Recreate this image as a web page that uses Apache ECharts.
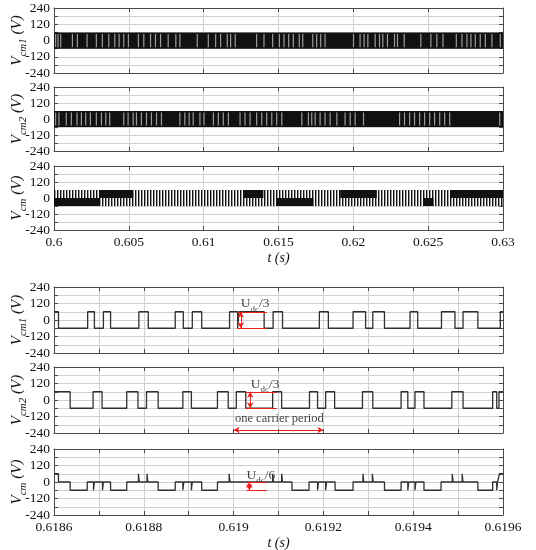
<!DOCTYPE html>
<html><head><meta charset="utf-8">
<script src="https://cdn.jsdelivr.net/npm/echarts@6/dist/echarts.min.js"></script>
<style>html,body{margin:0;padding:0;background:#fff}#c{width:536px;height:550px}</style>
</head><body><div id="c"></div>
<script>
// ---------- data ----------
const topRange = [0.6, 0.63];
const topStep = 0.005;
const botRange = [0.6186, 0.6196];
const botStep = 0.0001;
const yRange = [-240, 240];
const yStep = 60;
const yLabelStep = 120;
const swing = [-60, 60];

// top panels: light stripes (instants without switching) in dense PWM band
const vcm1TopGaps = [0.60011,0.60027,0.60045,0.60123,0.60156,0.60221,0.60283,0.60323,0.60366,0.60406,0.60435,0.60466,0.60497,0.60564,0.606,0.60645,0.60678,0.60712,0.60763,0.60814,0.60841,0.60957,0.61031,0.6108,0.61113,0.61158,0.6118,0.61211,0.61354,0.61403,0.61461,0.61506,0.61537,0.61568,0.61599,0.61639,0.61662,0.61729,0.61755,0.61782,0.61811,0.62001,0.62045,0.62072,0.62097,0.62146,0.62175,0.62197,0.62228,0.62275,0.62295,0.6234,0.62451,0.62518,0.62558,0.62599,0.62688,0.62726,0.62759,0.62786,0.62815,0.62848,0.62882,0.62926,0.62982];
const vcm2TopGaps = [0.60011,0.60033,0.60082,0.60116,0.60154,0.60183,0.60212,0.60243,0.60283,0.60317,0.60346,0.60372,0.60466,0.60495,0.60529,0.60551,0.60584,0.60618,0.60651,0.60685,0.60718,0.60841,0.60874,0.60903,0.6093,0.60975,0.61002,0.61065,0.61098,0.61131,0.61165,0.61243,0.61276,0.6131,0.61354,0.61388,0.61421,0.61455,0.61488,0.61522,0.61656,0.617,0.61722,0.61745,0.61778,0.61811,0.61845,0.6189,0.61945,0.61979,0.62012,0.62068,0.62309,0.62342,0.62376,0.62409,0.62443,0.62476,0.6251,0.62543,0.62577,0.6261,0.62644,0.62978];
// Vcm (top): intervals of dense switching in the upper (0..60) and lower (-60..0) halves
const vcmUpperDense = [[0.60306,0.60529],[0.61265,0.61399],[0.61912,0.62157],[0.62648,0.63]];
const vcmLowerDense = [[0.6,0.60306],[0.61488,0.61733],[0.6247,0.62536]];

// bottom panels: switching instants (s) and levels (V)
const vcm1T = [0.6186,0.61861,0.618675,0.61869,0.61871,0.618726,0.618789,0.61881,0.61887,0.618888,0.618908,0.618929,0.618991,0.619009,0.619012,0.619068,0.619088,0.619109,0.619191,0.619211,0.619266,0.619294,0.61931,0.619336,0.619393,0.61941,0.619463,0.619493,0.619511,0.619544,0.619594,0.6196];
const vcm1V = [60,-60,60,-60,60,-60,60,-60,60,-60,60,-60,60,-60,60,-60,60,-60,60,-60,60,-60,60,-60,60,-60,60,-60,60,-60,60,60];
const vcm2T = [0.6186,0.618636,0.618687,0.618707,0.618762,0.618787,0.618806,0.618832,0.618887,0.618906,0.618964,0.618988,0.619006,0.619027,0.619087,0.619107,0.619169,0.619187,0.619205,0.619225,0.619287,0.61931,0.619373,0.619388,0.619404,0.619424,0.619486,0.619511,0.619577,0.619586,0.619591,0.6196];
const vcm2V = [60,-60,60,-60,60,-60,60,-60,60,-60,60,-60,60,-60,60,-60,60,-60,60,-60,60,-60,60,-60,60,-60,60,-60,60,-60,60,60];
const vcmT = [0.6186,0.61861,0.618636,0.618674,0.618688,0.61869,0.618708,0.61871,0.618726,0.618762,0.618788,0.61879,0.618807,0.618809,0.618832,0.61887,0.618887,0.618889,0.618906,0.618908,0.618929,0.618964,0.61899,0.618992,0.619087,0.619089,0.619107,0.619109,0.61913,0.619168,0.619187,0.619189,0.619205,0.619207,0.619226,0.619266,0.619288,0.61929,0.619309,0.619311,0.619336,0.619373,0.619388,0.61939,0.619404,0.619406,0.619424,0.619462,0.619487,0.619489,0.619509,0.619511,0.619544,0.619577,0.619586,0.619588,0.619592,0.6196];
const vcmV = [60,0,-60,0,-60,0,-60,0,-60,0,60,0,60,0,-60,0,-60,0,-60,0,-60,0,60,0,60,0,60,0,-60,0,-60,0,-60,0,-60,0,60,0,60,0,-60,0,-60,0,-60,0,-60,0,60,0,60,0,-60,0,-60,0,60,60];

const panelSub = ['cm1','cm2','cm','cm1','cm2','cm'];

// ---------- chart ----------
const F = 'Liberation Serif, Times New Roman, serif';
const chart = echarts.init(document.getElementById('c'));
const gridBoxes = [[8,65],[87,64],[166,64],[287,66],[367,66],[449,66]];
const grid = gridBoxes.map(g => ({left:54, width:449, top:g[0], height:g[1], outerBoundsMode:'none', containLabel:false}));

const axisCol = '#4a4a4a';
const xAxis = [], yAxis = [];
function fmtX(v){ return String(parseFloat(v.toFixed(5))); }
gridBoxes.forEach((g, i) => {
  const isTop = i < 3;
  const range = isTop ? topRange : botRange;
  const step = isTop ? topStep : botStep;
  const showLab = (i === 2 || i === 5);
  xAxis.push({
    gridIndex:i, type:'value', min:range[0], max:range[1], interval:step, position:'bottom',
    axisLine:{show:true, onZero:false, lineStyle:{color:axisCol, width:1}},
    axisTick:{show:true, inside:true, length:4, lineStyle:{color:axisCol}},
    axisLabel:{show:showLab, fontFamily:F, fontSize:13.5, color:'#111', margin:5, showMinLabel:true, showMaxLabel:true, hideOverlap:false,
      formatter: isTop ? (v)=>fmtX(v) : (v, idx)=> (idx % 2 === 0 ? fmtX(v) : '')},
    splitLine:{show:true, lineStyle:{color:'#d0d0d0', width:1}},
    name: showLab ? 't (s)' : '', nameLocation:'middle', nameGap:21, nameMoveOverlap:false,
    nameTextStyle:{fontFamily:F, fontSize:14, fontStyle:'italic', color:'#111'}
  });
  xAxis.push({
    gridIndex:i, type:'value', min:range[0], max:range[1], interval:step, position:'top',
    axisLine:{show:true, onZero:false, lineStyle:{color:axisCol, width:1}},
    axisTick:{show:true, inside:true, length:4, lineStyle:{color:axisCol}},
    axisLabel:{show:false}, splitLine:{show:false}
  });
  yAxis.push({
    gridIndex:i, type:'value', min:yRange[0], max:yRange[1], interval:yStep, position:'left',
    axisLine:{show:true, onZero:false, lineStyle:{color:axisCol, width:1}},
    axisTick:{show:true, inside:true, length:4, lineStyle:{color:axisCol}},
    axisLabel:{fontFamily:F, fontSize:13.5, color:'#111', margin:4, hideOverlap:false,
      formatter:(v)=> (v % yLabelStep === 0 ? String(v) : '')},
    splitLine:{show:true, lineStyle:{color:'#d0d0d0', width:1}},
    name:'{v|V}{s|' + panelSub[i] + '}{v| (V)}', nameLocation:'middle', nameGap:25, nameRotate:90, nameMoveOverlap:false,
    nameTextStyle:{rich:{
      v:{fontFamily:F, fontSize:15, fontStyle:'italic', color:'#111', verticalAlign:'bottom', padding:[0,0,4,0]},
      s:{fontFamily:F, fontSize:11, fontStyle:'italic', color:'#111', verticalAlign:'bottom'}
    }}
  });
  yAxis.push({
    gridIndex:i, type:'value', min:yRange[0], max:yRange[1], interval:yStep, position:'right',
    axisLine:{show:true, onZero:false, lineStyle:{color:axisCol, width:1}},
    axisTick:{show:true, inside:true, length:4, lineStyle:{color:axisCol}},
    axisLabel:{show:false}, splitLine:{show:false}
  });
});

// stripe pattern for sparse switching region
const pc = document.createElement('canvas'); pc.width = 3; pc.height = 4;
const pctx = pc.getContext('2d');
pctx.fillStyle = '#ffffff'; pctx.fillRect(0,0,3,4);
pctx.fillStyle = '#9a9a9a'; pctx.fillRect(1,0,1,4);
pctx.fillStyle = '#111111'; pctx.fillRect(0,0,1,4);
const stripePattern = {image: pc, repeat: 'repeat'};

function bandSeries(ax, intervals, fill){
  return {
    type:'custom', xAxisIndex:ax*2, yAxisIndex:ax*2, silent:true, clip:true,
    data: intervals, encode:{x:[0,1], y:[2,3]},
    renderItem:(params, api)=>{
      const p0 = api.coord([api.value(0), api.value(3)]);
      const p1 = api.coord([api.value(1), api.value(2)]);
      return {type:'rect', shape:{x:p0[0], y:p0[1], width:p1[0]-p0[0], height:p1[1]-p0[1]}, style:{fill:fill}};
    }
  };
}
function gapSeries(ax, gaps, lo, hi){
  return {
    type:'custom', xAxisIndex:ax*2, yAxisIndex:ax*2, silent:true, clip:true,
    data: gaps.map(t=>[t, lo, hi]), encode:{x:0, y:[1,2]},
    renderItem:(params, api)=>{
      const a = api.coord([api.value(0), api.value(2)]);
      const b = api.coord([api.value(0), api.value(1)]);
      return {type:'rect', shape:{x:a[0]-0.6, y:a[1]+1.5, width:1.2, height:b[1]-a[1]-3}, style:{fill:'#9c9c9c'}};
    }
  };
}
function stepSeries(ax, T, V){
  return {
    type:'line', xAxisIndex:ax*2, yAxisIndex:ax*2, step:'end', showSymbol:false, silent:true,
    data: T.map((t,i)=>[t, V[i]]),
    lineStyle:{color:'#303030', width:1.3}
  };
}
const red = '#e8201c';
function hLine(x0,x1,y){ return [{coord:[x0,y]},{coord:[x1,y]}]; }
function arrowLine(p0,p1){ return [{coord:p0, symbol:'arrow'},{coord:p1, symbol:'arrow'}]; }
function redLines(list){
  return {symbol:['none','none'], symbolSize:[5,6], silent:true, animation:false,
    label:{show:false}, lineStyle:{color:red, width:1, type:'solid'}, emphasis:{disabled:true}, data:list};
}
function textSeries(ax, x, y, txt){
  return {
    type:'scatter', xAxisIndex:ax*2, yAxisIndex:ax*2, silent:true, symbolSize:1,
    itemStyle:{color:'rgba(0,0,0,0)'}, data:[[x,y]],
    label:{show:true, position:'inside', align:'left', verticalAlign:'middle', formatter:txt,
      fontFamily:F, fontSize:13, color:'#111',
      rich:{u:{fontFamily:F, fontSize:13.5, color:'#111', verticalAlign:'bottom', padding:[0,0,3,0]},
            p:{fontFamily:F, fontSize:12.5, color:'#111'},
            d:{fontFamily:F, fontSize:9, color:'#111', verticalAlign:'bottom'}}}
  };
}

const s4 = stepSeries(3, vcm1T, vcm1V);
s4.markLine = redLines([hLine(0.619008,0.619074,60), hLine(0.619008,0.619074,-60),
  arrowLine([0.619016,60],[0.619016,-60])]);
const s5 = stepSeries(4, vcm2T, vcm2V);
s5.markLine = redLines([hLine(0.619027,0.619096,60), hLine(0.619027,0.619096,-60),
  arrowLine([0.619037,60],[0.619037,-60]), arrowLine([0.619,-218],[0.6192,-218])]);
const s6 = stepSeries(5, vcmT, vcmV);
s6.markLine = redLines([hLine(0.619029,0.619074,0), hLine(0.619029,0.619074,-60),
  arrowLine([0.619035,0],[0.619035,-60])]);

const series = [
  bandSeries(0, [[topRange[0], topRange[1], swing[0], swing[1]]], '#111'),
  gapSeries(0, vcm1TopGaps, swing[0], swing[1]),
  bandSeries(1, [[topRange[0], topRange[1], swing[0], swing[1]]], '#111'),
  gapSeries(1, vcm2TopGaps, swing[0], swing[1]),
  bandSeries(2, [[topRange[0], topRange[1], 0, swing[1]],[topRange[0], topRange[1], swing[0], 0]], stripePattern),
  bandSeries(2, vcmUpperDense.map(d=>[d[0], d[1], 0, swing[1]]), '#111'),
  bandSeries(2, vcmLowerDense.map(d=>[d[0], d[1], swing[0], 0]), '#111'),
  s4, s5, s6,
  textSeries(3, 0.619016, 108, '{u|U}{d|dc}{u|/3}'),
  textSeries(4, 0.619038, 104, '{u|U}{d|dc}{u|/3}'),
  textSeries(4, 0.619003, -133, '{p|one carrier period}'),
  textSeries(5, 0.619029, 39, '{u|U}{d|dc}{u|/6}')
];

chart.setOption({animation:false, grid, xAxis, yAxis, series});
</script></body></html>
